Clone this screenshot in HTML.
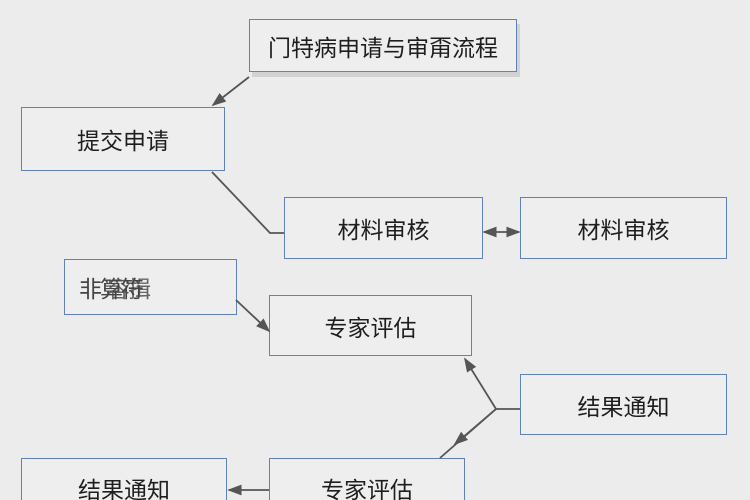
<!DOCTYPE html>
<html><head><meta charset="utf-8"><style>
html,body{margin:0;width:750px;height:500px;background:#ececec;overflow:hidden;position:relative;font-family:"Liberation Sans","Noto Sans CJK SC",sans-serif}
.b{position:absolute;box-sizing:border-box;border:1.5px solid #5f82b8;background:#eeeeee;display:flex;align-items:center;justify-content:center;font-size:23px;color:#1e1e1e}
svg{position:absolute;left:0;top:0}
</style></head><body>
<div class="b" style="left:249px;top:19px;width:268px;height:53px;box-shadow:3px 5px 0 #d2d2d2">门特病申请与审甭流程</div>
<div class="b" style="left:21px;top:107px;width:204px;height:64px">提交申请</div>
<div class="b" style="left:284px;top:197px;width:199px;height:62px">材料审核</div>
<div class="b" style="left:520px;top:197px;width:207px;height:62px">材料审核</div>
<div class="b" style="left:64px;top:259px;width:173px;height:56px;justify-content:flex-start;padding-left:14px;color:#444"><span style="position:relative;white-space:nowrap;letter-spacing:-2px">非算符<span style="position:absolute;left:28px;top:0;opacity:.8;white-space:nowrap;letter-spacing:-2px">容揖</span></span></div>
<div class="b" style="left:269px;top:295px;width:203px;height:61px">专家评估</div>
<div class="b" style="left:520px;top:374px;width:207px;height:61px">结果通知</div>
<div class="b" style="left:21px;top:458px;width:206px;height:60px">结果通知</div>
<div class="b" style="left:269px;top:458px;width:196px;height:60px">专家评估</div>
<svg width="750" height="500">
<defs><marker id="a" markerWidth="8" markerHeight="8" refX="7" refY="4" orient="auto"><path d="M0,1 L8,4 L0,7z" fill="#555"/></marker>
<marker id="s" markerWidth="8" markerHeight="8" refX="1" refY="4" orient="auto"><path d="M8,1 L0,4 L8,7z" fill="#555"/></marker></defs>
<g stroke="#555" stroke-width="1.8" fill="none">
<path d="M249,77 L213,105" marker-end="url(#a)"/>
<path d="M212,172 L270,233 L284,233"/>
<path d="M484,232 L519,232" marker-start="url(#s)" marker-end="url(#a)"/>
<path d="M236,300 L269,331" marker-end="url(#a)"/>
<path d="M520,409 L496,409 L465,359" marker-end="url(#a)"/>
<path d="M496,409 L440,458"/>
<path d="M496,409 L455,444" marker-end="url(#a)"/>
<path d="M269,490 L229,490" marker-end="url(#a)"/>
</g></svg>
</body></html>
